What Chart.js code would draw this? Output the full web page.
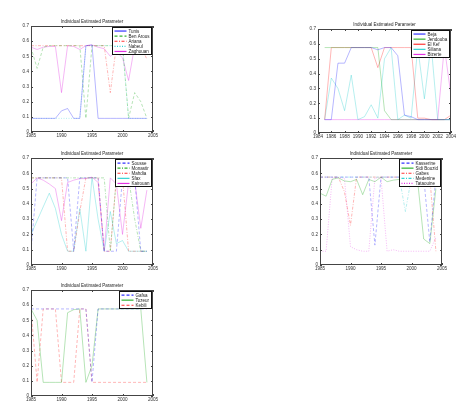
<!DOCTYPE html>
<html>
<head>
<meta charset="utf-8">
<script src="https://cdn.jsdelivr.net/npm/chart.js@4.4.1/dist/chart.umd.min.js"></script>
<style>
  body { margin: 0; background: #fff; }
  #page { position: relative; width: 474px; height: 420px; overflow: hidden; background: #fff; }
  #page canvas { position: absolute; }
</style>
</head>
<body>
<div id="page">
  <canvas id="c1"></canvas>
  <canvas id="c2"></canvas>
  <canvas id="c3"></canvas>
  <canvas id="c4"></canvas>
  <canvas id="c5"></canvas>
</div>
<script>
// years of the estimates
const years = [1985, 1986, 1987, 1988, 1989, 1990, 1991, 1992, 1993, 1994,
               1995, 1996, 1997, 1998, 1999, 2000, 2001, 2002, 2003, 2004];

// tick labels
const xTicks5 = [1985, 1990, 1995, 2000, 2005];
const xTicks2 = [1984, 1986, 1988, 1990, 1992, 1994, 1996, 1998, 2000, 2002, 2004];
const yTicks = [0, 0.1, 0.2, 0.3, 0.4, 0.5, 0.6, 0.7];

// plot 1
const p1Names = ['Tunis', 'Ben Arous', 'Ariana', 'Nabeul', 'Zaghouan'];
const tunis    = [.09,.09,.09,.09,.09,.14,.155,.09,.09,.57,.575,.09,.09,.09,.09,.09,.09,.09,.09,.09];
const benArous = [.56,.42,.56,.57,.57,.57,.57,.57,.57,.09,.57,.57,.57,.57,.57,.57,.09,.26,.20,.09];
const ariana   = [.57,.57,.57,.57,.57,.57,.57,.57,.57,.57,.57,.57,.57,.26,.57,.57,.57,.57,.57,.48];
const nabeul   = [.09,.09,.09,.09,.09,.09,.09,.09,.09,.57,.57,.57,.57,.57,.57,.57,.09,.09,.09,.09];
const zaghouan = [.56,.545,.56,.565,.565,.26,.57,.565,.545,.57,.575,.56,.55,.50,.53,.49,.34,.57,.57,.56];

// plot 2
const p2Names = ['Beja', 'Jendouba', 'El Kef', 'Siliana', 'Bizerte'];
const beja     = [.09,.09,.47,.47,.575,.575,.575,.575,.56,.575,.575,.52,.12,.11,.09,.09,.09,.09,.09,.09];
const jendouba = [.575,.575,.575,.575,.575,.575,.575,.575,.575,.15,.09,.09,.09,.09,.09,.09,.09,.09,.09,.09];
const elKef    = [.09,.575,.575,.575,.575,.575,.575,.575,.44,.575,.575,.575,.575,.575,.10,.10,.09,.09,.09,.12];
const siliana  = [.09,.37,.30,.15,.39,.09,.11,.19,.10,.50,.575,.09,.12,.10,.575,.23,.60,.09,.09,.09];
const bizerte  = [.09,.09,.09,.09,.09,.09,.09,.09,.09,.09,.09,.09,.09,.09,.09,.09,.09,.09,.58,.25];

// plot 3
const p3Names = ['Sousse', 'Monastir', 'Mahdia', 'Sfax', 'Kairouan'];
const sousse   = [.09,.57,.57,.57,.57,.57,.57,.09,.57,.57,.57,.57,.09,.09,.09,.57,.57,.57,.09,.09];
const monastir = [.57,.57,.57,.57,.57,.57,.57,.57,.57,.57,.57,.57,.57,.09,.57,.57,.57,.30,.09,.09];
const mahdia   = [.57,.57,.57,.57,.57,.57,.09,.09,.35,.57,.57,.57,.09,.09,.57,.57,.09,.09,.09,.09];
const sfax     = [.20,.29,.38,.47,.37,.20,.09,.09,.37,.09,.575,.30,.09,.35,.14,.16,.09,.09,.09,.09];
const kairouan = [.53,.57,.555,.53,.50,.29,.54,.555,.565,.565,.575,.54,.09,.57,.53,.20,.54,.55,.24,.49];

// plot 4
const p4Names = ['Kasserine', 'Sidi Bouzid', 'Gabes', 'Medenine', 'Tataouine'];
const kasserine  = [.575,.575,.575,.575,.575,.575,.575,.575,.575,.13,.575,.575,.575,.575,.575,.575,.575,.575,.15,.575];
const sidiBouzid = [.47,.45,.56,.57,.55,.545,.56,.46,.56,.545,.575,.545,.555,.56,.56,.56,.55,.17,.14,.50];
const gabes      = [.575,.575,.575,.575,.48,.26,.575,.575,.575,.575,.575,.575,.575,.575,.575,.575,.575,.575,.575,.09];
const medenine   = [.575,.575,.575,.575,.575,.575,.575,.575,.575,.575,.575,.575,.575,.575,.35,.575,.575,.575,.575,.575];
const tataouine  = [.09,.09,.57,.57,.57,.12,.10,.09,.09,.57,.57,.09,.10,.09,.09,.09,.09,.09,.09,.18];

// plot 5
const p5Names = ['Gafsa', 'Tozeur', 'Kebili'];
const gafsa  = [.575,.575,.575,.575,.575,.575,.575,.575,.575,.575,.09,.575,.575,.575,.575,.575,.575,.575,.575,.575];
const tozeur = [.575,.50,.09,.09,.09,.09,.55,.57,.575,.09,.20,.575,.575,.575,.575,.575,.575,.575,.575,.09];
const kebili = [.575,.09,.575,.575,.575,.09,.09,.09,.575,.575,.09,.09,.09,.09,.09,.09,.09,.09,.09,.09];

// matlab colour letters and line specs
const COLORS = { b: '0,0,255', g: '0,160,0', r: '255,0,0', c: '0,200,200', m: '220,0,220' };
const DASHES = { '-': [], '--': [3, 2], ':': [1, 1.5], '-.': [3, 1.5, 1, 1.5] };
const FONT = '"Liberation Sans", Arial, sans-serif';

// draws the box, inward ticks, title and boxed legend like matlab
const matlabFrame = {
  id: 'matlabFrame',
  afterDatasetsDraw(chart, args, opts) {
    const ctx = chart.ctx, a = chart.chartArea;
    const xs = chart.scales.x, ys = chart.scales.y;
    ctx.save();
    ctx.strokeStyle = '#444';
    ctx.lineWidth = 1;
    ctx.setLineDash([]);
    ctx.strokeRect(Math.round(a.left) + 0.5, Math.round(a.top) + 0.5,
                   Math.round(a.width) - 1, Math.round(a.height) - 1);
    ctx.beginPath();
    xs.ticks.forEach(t => {
      const px = Math.round(xs.getPixelForValue(t.value)) + 0.5;
      ctx.moveTo(px, a.bottom); ctx.lineTo(px, a.bottom - 2);
      ctx.moveTo(px, a.top); ctx.lineTo(px, a.top + 2);
    });
    ys.ticks.forEach(t => {
      const py = Math.round(ys.getPixelForValue(t.value)) + 0.5;
      ctx.moveTo(a.left, py); ctx.lineTo(a.left + 2, py);
      ctx.moveTo(a.right, py); ctx.lineTo(a.right - 2, py);
    });
    ctx.stroke();

    // title
    ctx.fillStyle = '#222';
    ctx.font = '4.5px ' + FONT;
    ctx.textAlign = 'center';
    ctx.textBaseline = 'middle';
    ctx.fillText(opts.title, (a.left + a.right) / 2, a.top - 4.5);

    // legend
    const sets = chart.data.datasets;
    ctx.font = '4.5px ' + FONT;
    let tw = 0;
    sets.forEach(d => { tw = Math.max(tw, ctx.measureText(d.label).width); });
    const rowH = 5.1, sample = 12;
    const w = Math.round(2 + sample + 2 + tw + 2);
    const h = Math.round(sets.length * rowH + 1.5);
    const lx = Math.round(a.right - 2 - w) + 0.5, ly = Math.round(a.top + 1) + 0.5;
    ctx.fillStyle = '#fff';
    ctx.fillRect(lx, ly, w, h);
    ctx.strokeStyle = '#111';
    ctx.strokeRect(lx, ly, w, h);
    ctx.textAlign = 'left';
    sets.forEach((d, i) => {
      const cy = ly + 1 + rowH * (i + 0.5);
      ctx.strokeStyle = d.legendColor;
      ctx.lineWidth = 1.2;
      ctx.setLineDash(d.borderDash);
      ctx.beginPath();
      ctx.moveTo(lx + 2, cy); ctx.lineTo(lx + 2 + sample, cy);
      ctx.stroke();
      ctx.fillStyle = '#222';
      ctx.fillText(d.label, lx + 4 + sample, cy + 0.3);
    });
    ctx.restore();
  }
};

function makePlot(id, area, names, series, specs, xTicks) {
  const padTop = 10, padRight = 8, yw = 20, xh = 10;
  const cv = document.getElementById(id);
  cv.width = area.x1 - area.x0 + yw + padRight;
  cv.height = area.y1 - area.y0 + padTop + xh + 2;
  cv.style.left = (area.x0 - yw) + 'px';
  cv.style.top = (area.y0 - padTop) + 'px';

  const datasets = series.map((vals, i) => {
    const [col, ls] = specs[i];
    return {
      label: names[i],
      data: vals.map((v, k) => ({ x: years[k], y: v })),
      borderColor: 'rgba(' + COLORS[col] + ',0.36)',
      legendColor: 'rgba(' + COLORS[col] + ',0.8)',
      borderWidth: 0.8,
      borderDash: DASHES[ls],
      pointRadius: 0,
      fill: false,
      tension: 0
    };
  });

  const tickFont = { size: 4.6, family: FONT };
  return new Chart(cv, {
    type: 'line',
    data: { datasets },
    options: {
      responsive: false,
      animation: false,
      layout: { padding: { left: 0, top: padTop, right: padRight, bottom: 2 } },
      plugins: {
        legend: { display: false },
        tooltip: { enabled: false },
        matlabFrame: { title: 'Individual Estimated Parameter' }
      },
      scales: {
        x: {
          type: 'linear',
          min: xTicks[0],
          max: xTicks[xTicks.length - 1],
          afterBuildTicks: s => { s.ticks = xTicks.map(v => ({ value: v })); },
          ticks: { callback: v => String(v), font: tickFont, color: '#333', maxRotation: 0, autoSkip: false, padding: 1 },
          grid: { display: false, drawTicks: false },
          border: { display: false },
          afterFit: s => { s.height = xh; }
        },
        y: {
          min: 0,
          max: 0.7,
          afterBuildTicks: s => { s.ticks = yTicks.map(v => ({ value: v })); },
          ticks: { callback: v => (v === 0 ? '0' : v.toFixed(1)), font: tickFont, color: '#333', padding: 2 },
          grid: { display: false, drawTicks: false },
          border: { display: false },
          afterFit: s => { s.width = yw; }
        }
      }
    },
    plugins: [matlabFrame]
  });
}

makePlot('c1', { x0: 31, y0: 26, x1: 153, y1: 132 }, p1Names,
  [tunis, benArous, ariana, nabeul, zaghouan],
  [['b', '-'], ['g', '--'], ['r', '-.'], ['c', ':'], ['m', '-']], xTicks5);

makePlot('c2', { x0: 318, y0: 29, x1: 451, y1: 133 }, p2Names,
  [beja, jendouba, elKef, siliana, bizerte],
  [['b', '-'], ['g', '-'], ['r', '-'], ['c', '-'], ['m', '-']], xTicks2);

makePlot('c3', { x0: 31, y0: 158, x1: 153, y1: 265 }, p3Names,
  [sousse, monastir, mahdia, sfax, kairouan],
  [['b', '--'], ['g', '-.'], ['r', '-.'], ['c', '-'], ['m', '-']], xTicks5);

makePlot('c4', { x0: 320, y0: 158, x1: 442, y1: 265 }, p4Names,
  [kasserine, sidiBouzid, gabes, medenine, tataouine],
  [['b', '--'], ['g', '-'], ['r', '-.'], ['c', '-.'], ['m', ':']], xTicks5);

makePlot('c5', { x0: 31, y0: 290, x1: 153, y1: 396 }, p5Names,
  [gafsa, tozeur, kebili],
  [['b', '--'], ['g', '-'], ['r', '--']], xTicks5);
</script>
</body>
</html>
